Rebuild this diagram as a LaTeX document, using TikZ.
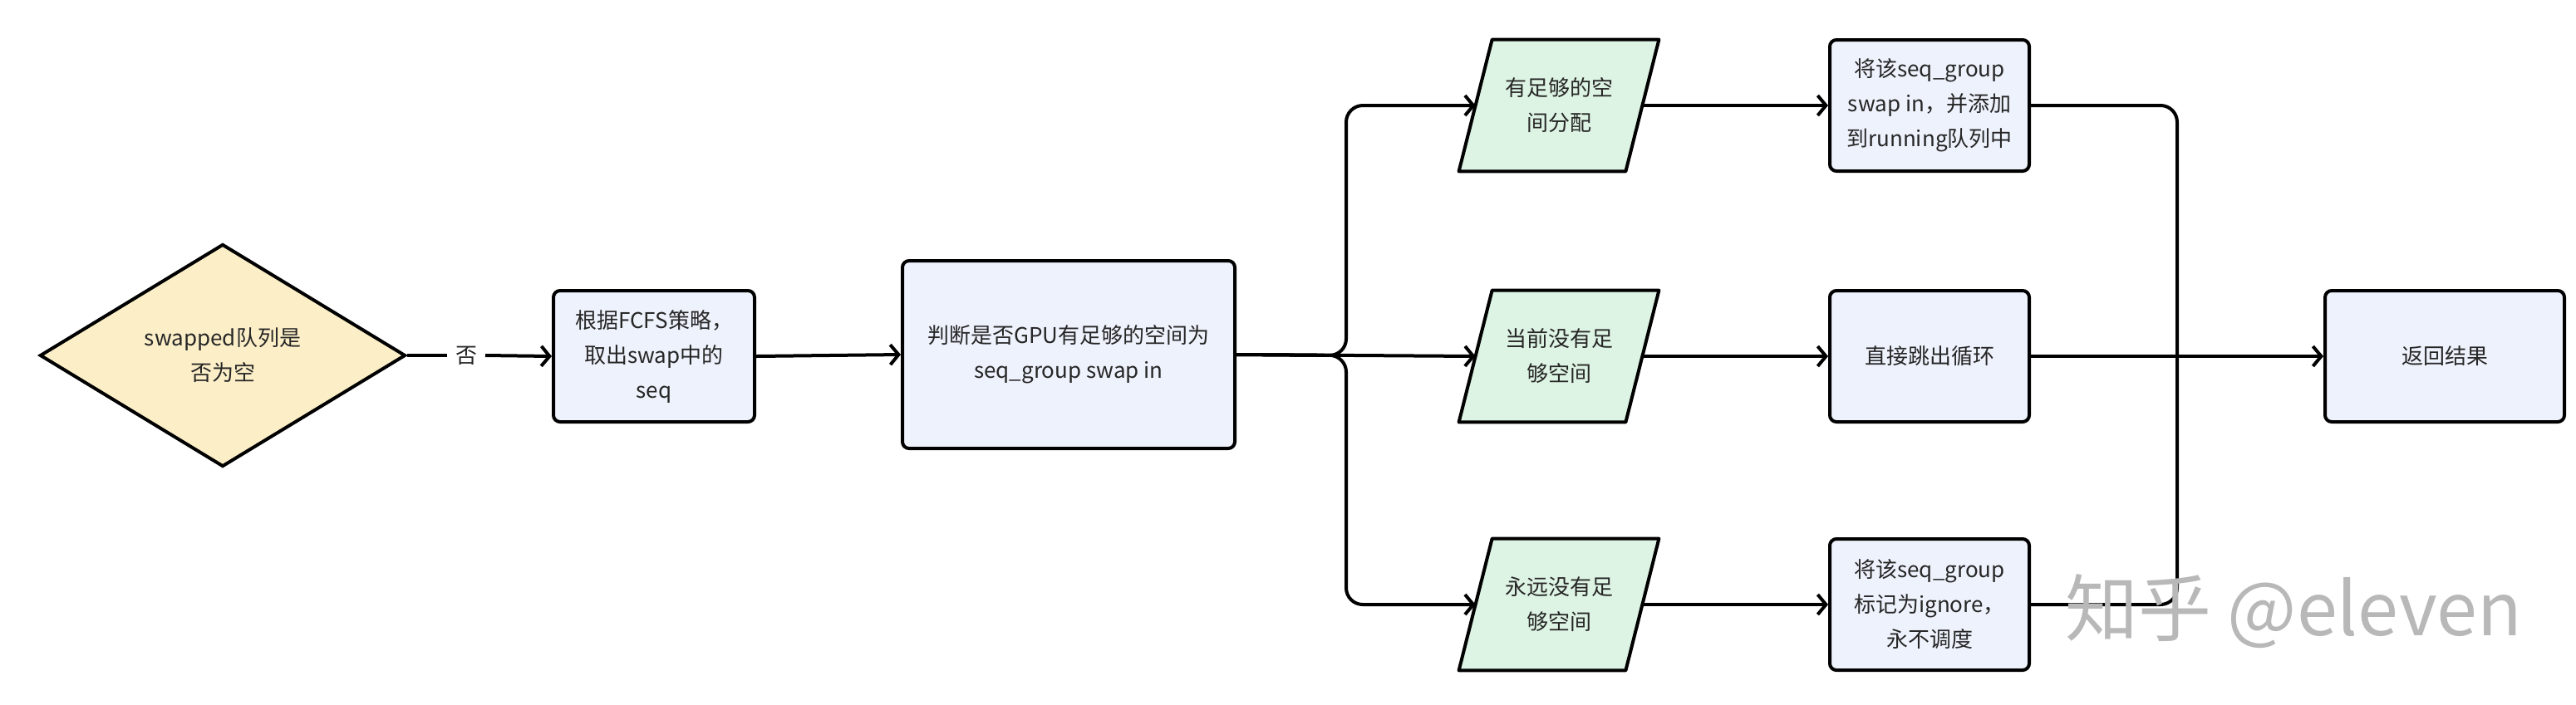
\documentclass[tikz,border=0pt]{standalone}
\usepackage{fontspec}
\setmainfont{Noto Sans CJK SC}
\usetikzlibrary{arrows.meta,shapes.geometric}
\definecolor{boxfill}{HTML}{EEF2FC}
\definecolor{diafill}{HTML}{FCEFC8}
\definecolor{parfill}{HTML}{DDF3E3}
\definecolor{txt}{HTML}{262626}
\begin{document}
\begin{tikzpicture}[x=1bp,y=-1bp,
  font=\fontsize{13bp}{21bp}\selectfont, text=txt,
  box/.style={draw=black,line width=2bp,fill=boxfill,rounded corners=4bp,align=center,inner sep=0pt},
  conn/.style={line width=2bp,-{Straight Barb[length=5bp,width=12bp,line width=2bp]}},
  plain/.style={line width=2bp},
  pbox/.style={inner sep=0pt,minimum width=120bp,minimum height=79bp,align=center}]
\useasboundingbox (0,0) rectangle (1550,424);
\node[draw=black,line width=2bp,fill=diafill,diamond,aspect=1.64,minimum width=220bp,minimum height=134bp,inner sep=0pt,align=center] (d) at (134,214) {swapped队列是\\否为空};
\node[box,minimum width=121bp,minimum height=79bp] (b1) at (393.5,214.5) {根据FCFS策略，\\取出swap中的\\seq};
\node[box,minimum width=200bp,minimum height=113bp] (b2) at (643,213.5) {判断是否GPU有足够的空间为\\seq\_group swap in};
\foreach \n/\y/\t in {p1/63.5/{有足够的空\\间分配}, p2/214.5/{当前没有足\\够空间}, p3/364/{永远没有足\\够空间}}{
  \node[pbox] (\n) at (938,\y) {};
  \fill[parfill,draw=black,line width=2bp,line join=round] ([xshift=20bp]\n.north west) -- (\n.north east) -- ([xshift=-20bp]\n.south east) -- (\n.south west) -- cycle;
  \node[align=center] at (\n) {\t};
}
\node[box,minimum width=120bp,minimum height=79bp] (q1) at (1161,63.5) {将该seq\_group\\swap in，并添加\\到running队列中};
\node[box,minimum width=120bp,minimum height=79bp] (q2) at (1161,214.5) {直接跳出循环};
\node[box,minimum width=120bp,minimum height=79bp] (q3) at (1161,364) {将该seq\_group\\标记为ignore，\\永不调度};
\node[box,minimum width=144bp,minimum height=79bp] (f) at (1471,214.5) {返回结果};
\draw[plain] (d.east) -- ++(24,0) node[right=0pt,fill=white,inner sep=4bp] (no) {否};
\draw[conn] (no.east) -- (b1.west);
\draw[conn] (b1.east) -- (b2.west);
\coordinate (j) at (810,214);
\draw[conn,rounded corners=10bp] (b2.east) -- (j) |- ([xshift=10bp]p1.west);
\draw[conn] (b2.east) -- ([xshift=10bp]p2.west);
\draw[conn,rounded corners=10bp] (b2.east) -- (j) |- ([xshift=10bp]p3.west);
\foreach \a/\b in {p1/q1,p2/q2,p3/q3}{
  \draw[conn] ([xshift=-10bp]\a.east) -- (\b.west);
}
\coordinate (m) at (1310,214);
\draw[plain,rounded corners=10bp] (q1.east) -| (m);
\draw[plain,rounded corners=10bp] (q3.east) -| (m);
\draw[conn] (q2.east) -- (f.west);
\node[text=black!28,font=\fontsize{44bp}{44bp}\selectfont] (wm) at (1380,368) {知乎 @eleven};
\end{tikzpicture}
\end{document}
